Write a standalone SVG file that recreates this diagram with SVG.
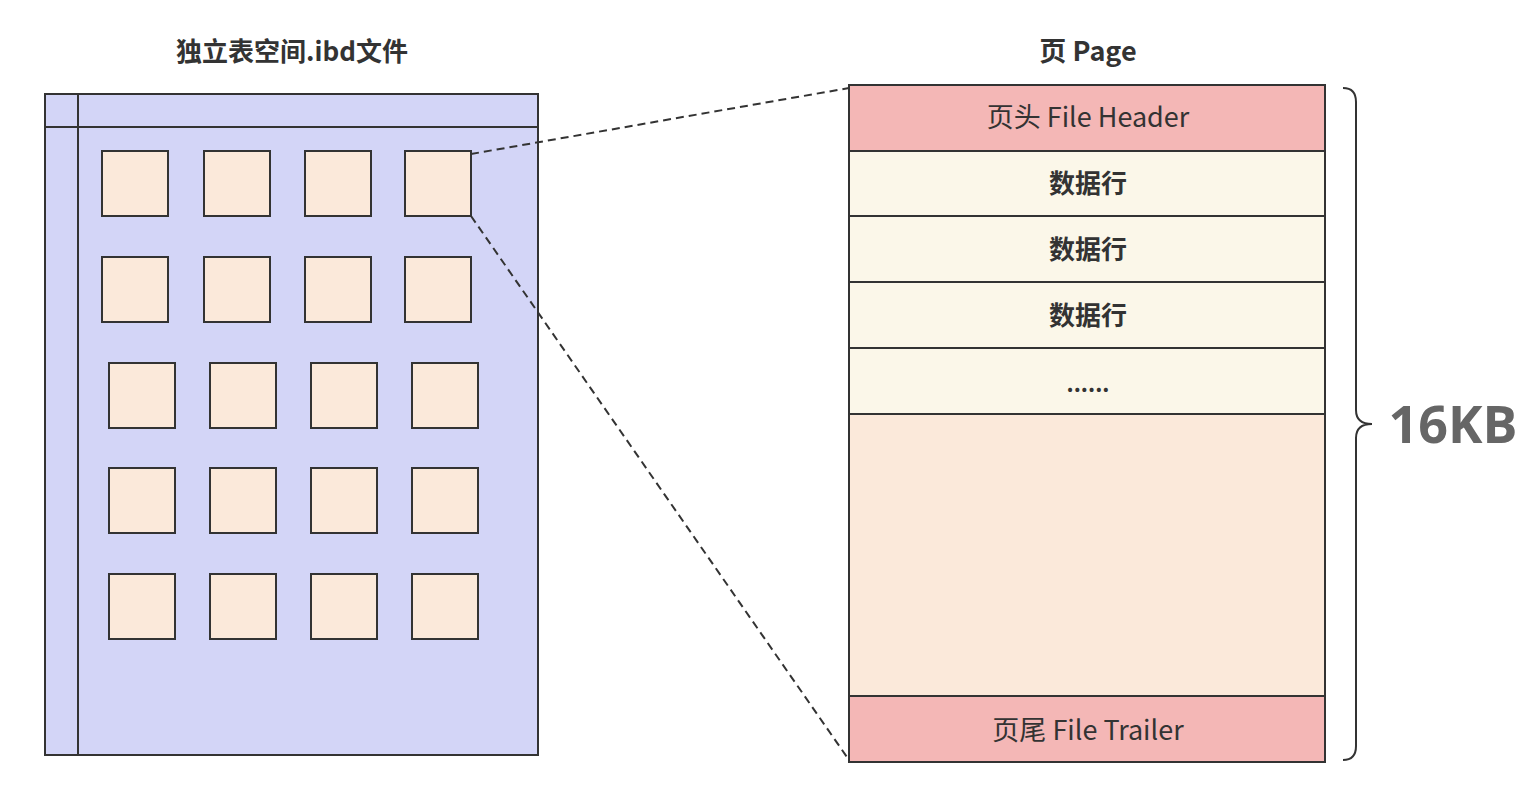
<svg xmlns="http://www.w3.org/2000/svg" width="1531" height="810" viewBox="0 0 1531 810">
<style>
.t{font-family:"Noto Sans CJK SC","Noto Sans",sans-serif;fill:#333;text-anchor:middle;}
.b{font-weight:bold;}
.sq{fill:#FBE9DA;stroke:#333;stroke-width:2;}
.row{stroke:#333;stroke-width:2;}
.dash{fill:none;stroke:#333;stroke-width:2;stroke-dasharray:8 5;}
</style>
<rect width="1531" height="810" fill="#fff"/>
<g id="file">
<text class="t b" x="292" y="61" font-size="26">独立表空间.ibd文件</text>
<rect x="45" y="94" width="493" height="661" fill="#D3D5F7" stroke="#333" stroke-width="2"/>
<line x1="78" y1="94" x2="78" y2="755" stroke="#333" stroke-width="2"/>
<line x1="45" y1="127" x2="538" y2="127" stroke="#333" stroke-width="2"/>
</g>
<g id="pages">
<rect class="sq" x="102" y="151" width="66" height="65"/>
<rect class="sq" x="204" y="151" width="66" height="65"/>
<rect class="sq" x="305" y="151" width="66" height="65"/>
<rect class="sq" x="405" y="151" width="66" height="65"/>
<rect class="sq" x="102" y="257" width="66" height="65"/>
<rect class="sq" x="204" y="257" width="66" height="65"/>
<rect class="sq" x="305" y="257" width="66" height="65"/>
<rect class="sq" x="405" y="257" width="66" height="65"/>
<rect class="sq" x="109" y="363" width="66" height="65"/>
<rect class="sq" x="210" y="363" width="66" height="65"/>
<rect class="sq" x="311" y="363" width="66" height="65"/>
<rect class="sq" x="412" y="363" width="66" height="65"/>
<rect class="sq" x="109" y="468" width="66" height="65"/>
<rect class="sq" x="210" y="468" width="66" height="65"/>
<rect class="sq" x="311" y="468" width="66" height="65"/>
<rect class="sq" x="412" y="468" width="66" height="65"/>
<rect class="sq" x="109" y="574" width="66" height="65"/>
<rect class="sq" x="210" y="574" width="66" height="65"/>
<rect class="sq" x="311" y="574" width="66" height="65"/>
<rect class="sq" x="412" y="574" width="66" height="65"/>
</g>
<g id="page">
<text class="t b" x="1088" y="61" font-size="27">页 Page</text>
<rect class="row" x="849" y="85" width="476" height="66" fill="#F4B7B6"/>
<text class="t" x="1088" y="127" font-size="27">页头 File Header</text>
<rect class="row" x="849" y="151" width="476" height="65" fill="#FBF7E9"/>
<text class="t b" x="1088" y="193" font-size="26">数据行</text>
<rect class="row" x="849" y="216" width="476" height="66" fill="#FBF7E9"/>
<text class="t b" x="1088" y="259" font-size="26">数据行</text>
<rect class="row" x="849" y="282" width="476" height="66" fill="#FBF7E9"/>
<text class="t b" x="1088" y="325" font-size="26">数据行</text>
<rect class="row" x="849" y="348" width="476" height="66" fill="#FBF7E9"/>
<text class="t b" x="1088" y="392" font-size="22">......</text>
<rect class="row" x="849" y="414" width="476" height="282" fill="#FBE9DA"/>
<rect class="row" x="849" y="696" width="476" height="66" fill="#F4B7B6"/>
<text class="t" x="1088" y="740" font-size="27">页尾 File Trailer</text>
</g>
<g id="size">
<path d="M1343 88 Q1356 88 1356 102 L1356 410 Q1356 424 1372 424 Q1356 424 1356 438 L1356 746 Q1356 760 1343 760" fill="none" stroke="#333" stroke-width="2"/>
<text x="1453" y="443" font-family="'Open Sans','Noto Sans',sans-serif" font-weight="bold" font-size="52" fill="#666" text-anchor="middle">16KB</text>
</g>
<g id="connectors">
<line class="dash" x1="471" y1="154" x2="849" y2="88"/>
<line class="dash" x1="471" y1="216" x2="849" y2="760"/>
</g>
</svg>
